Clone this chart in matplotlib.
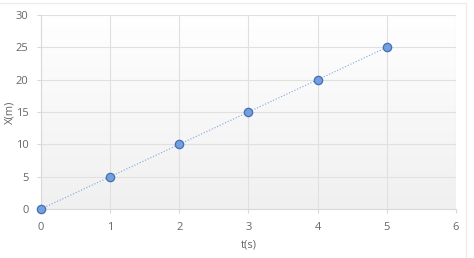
import numpy as np
import matplotlib.pyplot as plt
from matplotlib.patches import Rectangle

# data
t = [0, 1, 2, 3, 4, 5]
x = [0, 5, 10, 15, 20, 25]
xticks = [0, 1, 2, 3, 4, 5, 6]
yticks = [0, 5, 10, 15, 20, 25, 30]

plt.rcParams['font.family'] = ['Open Sans', 'DejaVu Sans']

fig = plt.figure(figsize=(4.74, 2.58), dpi=100)
ax = fig.add_axes([41/474, 1 - 209/258, 415/474, 194/258])

# faint outer frame of the chart box
fig.patches.append(Rectangle((-0.01, -0.01), 465.5/474 + 0.01, 1 - 2.5/258 + 0.01,
                             transform=fig.transFigure, fill=False,
                             edgecolor='#ececec', linewidth=1))

# gradient plot background
grad = np.linspace(0, 1, 256).reshape(-1, 1)
ax.imshow(grad, extent=[0, 6, 0, 30], aspect='auto', origin='upper',
          cmap=plt.matplotlib.colors.LinearSegmentedColormap.from_list(
              'g', ['#ffffff', '#f0f0f0']), zorder=0)

ax.plot(t, x, linestyle=':', color='#7aa6dc', linewidth=0.8, zorder=3)
ax.plot(t, x, linestyle='none', marker='o', markersize=6,
        markerfacecolor='#739fdb', markeredgecolor='#416fb8',
        markeredgewidth=0.9, zorder=4, clip_on=False)

ax.set_xlim(0, 6)
ax.set_ylim(0, 30)
ax.set_xticks(xticks)
ax.set_yticks(yticks)
ax.grid(True, color='#e0e0e0', linewidth=0.8, zorder=1)
ax.set_axisbelow(True)
for s in ['top', 'right']:
    ax.spines[s].set_visible(False)
ax.spines['left'].set_color('#d9d9d9')
ax.spines['bottom'].set_color('#d9d9d9')
ax.tick_params(axis='both', colors='#d9d9d9', labelcolor='#666666',
               labelsize=8, length=3, width=0.8)
ax.tick_params(axis='x', pad=6)
ax.tick_params(axis='y', pad=6)
ax.set_xlabel('t(s)', fontsize=8, color='#666666', labelpad=5)
ax.set_ylabel('X(m)', fontsize=8, color='#666666')
ax.yaxis.set_label_coords(-26 / 415, 0.5)

fig.savefig('out.png', dpi=100)
